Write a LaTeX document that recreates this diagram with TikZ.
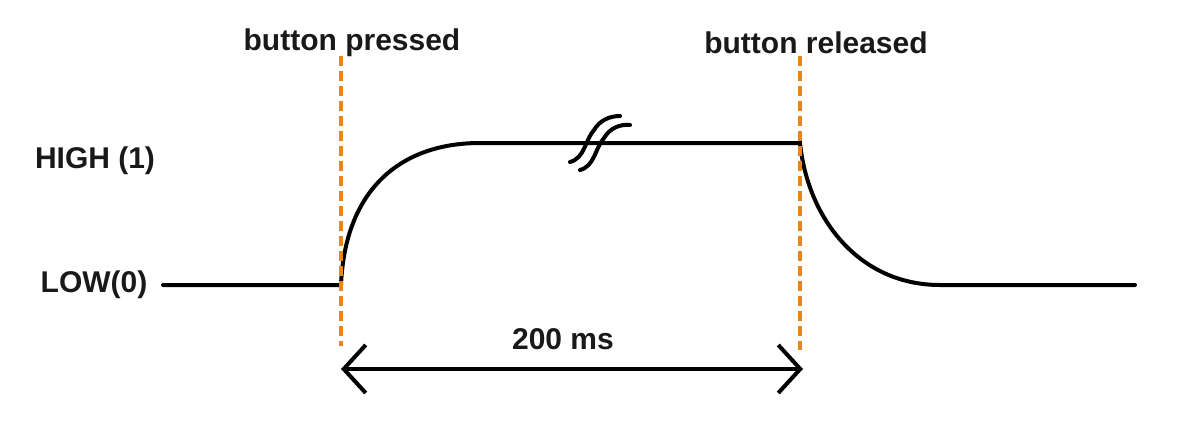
\documentclass[tikz,border=0pt]{standalone}
\usepackage{fontspec}
\setmainfont{Liberation Sans}
\usetikzlibrary{arrows.meta}
\definecolor{dashorange}{HTML}{E8861E}
\begin{document}
\begin{tikzpicture}[x=1pt,y=-1pt,
  lbl/.style={font=\bfseries\fontsize{30}{34}\selectfont, text=black!90, inner sep=0pt},
  signal/.style={line width=4pt, black, line cap=round},
  marker/.style={line width=3.6pt, dashorange, dash pattern=on 10pt off 5pt},
  span/.style={line width=4pt, black, {Straight Barb[length=22pt,width=48pt,line width=4pt]}-{Straight Barb[length=22pt,width=48pt,line width=4pt]}}]
\useasboundingbox (0,0) rectangle (1200,429);
% labels
\node[lbl] (bp) at (352,43) {button pressed};
\node[lbl] (br) at (816,43) {button released};
\node[lbl] (hi) at (95,161) {HIGH (1)};
\node[lbl] (lo) at (94,285) {LOW(0)};
\node[lbl] (ms) at (563,339) {200 ms};
% coordinates
\coordinate (p1) at (341,56);
\coordinate (p2) at (341,346);
\coordinate (r1) at (800,56);
\coordinate (r2) at (800,350);
\coordinate (s0) at (163,285);
\coordinate (s1) at (341,285);
\coordinate (s2) at (480,143);
\coordinate (s3) at (800,143);
\coordinate (s4) at (940,285);
\coordinate (s5) at (1135,285);
\coordinate (a1) at (341,369);
\coordinate (a2) at (803,369);
% signal
\draw[signal] (s0) -- (s1) .. controls (345,190) and (400,143) .. (s2) -- (s3)
  .. controls (808,220) and (860,285) .. (s4) -- (s5);
% break mark
\draw[line width=4pt, line cap=round] (570,162) .. controls (585,158) and (585,140) .. (594,130) .. controls (600,120) and (610,116) .. (620,116);
\draw[line width=4pt, line cap=round] (580,170) .. controls (595,166) and (595,148) .. (604,138) .. controls (610,128) and (620,124) .. (630,125);
% markers
\draw[marker] (p1) -- (p2);
\draw[marker] (r1) -- (r2);
% span arrow
\draw[span] (a1) -- (a2);
\end{tikzpicture}
\end{document}
